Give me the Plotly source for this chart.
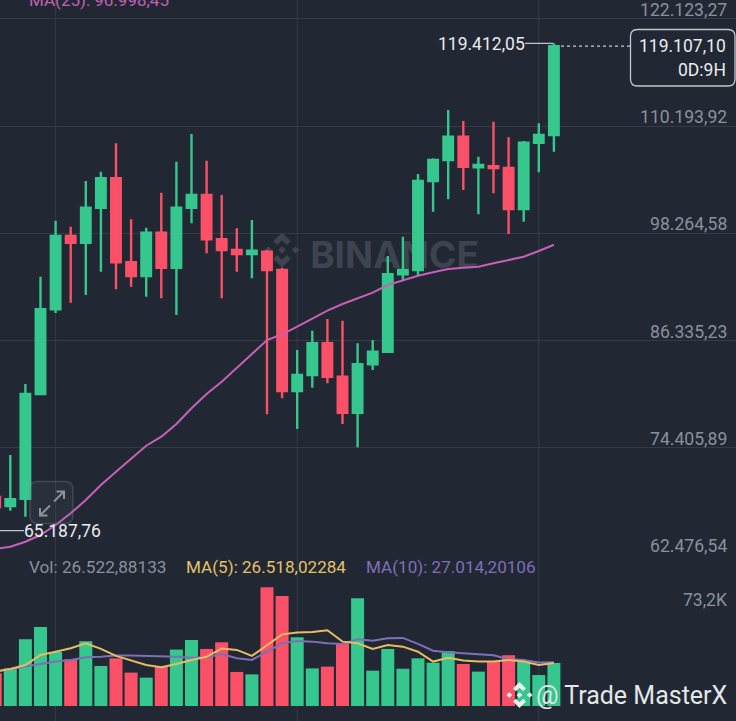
import plotly.graph_objects as go

# Candles, oldest first
opens = [68931, 67930, 68742, 80393, 89818, 97975, 97229, 101124, 104396, 95048,
         93524, 98342, 94447, 101124, 102537, 97608, 96417, 95972, 96228, 94191,
         80727, 82507, 86034, 82318, 78312, 83698, 85100, 93713, 94191, 104095,
         106432, 109025, 105620, 105750, 105542, 100979, 108357, 109214]
closes = [67818, 68675, 80393, 89818, 97975, 97229, 101124, 104396, 95048, 93524,
          98342, 94447, 101124, 102537, 97608, 96417, 95972, 96339, 94191, 80727,
          82507, 86034, 82318, 78312, 83698, 85100, 93713, 94191, 104095, 106432,
          109025, 105687, 105876, 105542, 100979, 108357, 109214, 119107.10]
highs = [69154, 73604, 81505, 93446, 99678, 99010, 104095, 105130, 108291, 99833,
         98898, 102793, 106243, 109325, 106354, 102537, 98832, 99755, 96417, 94447,
         85289, 87437, 88739, 88550, 86034, 86402, 95749, 97897, 104874, 106621,
         111996, 110772, 106799, 110694, 108958, 108547, 110516, 119412.05]
lows = [67706, 67406, 66739, 80281, 89406, 90553, 91409, 94002, 92044, 92333,
        91220, 91042, 89184, 99388, 96050, 91042, 94002, 93268, 78134, 79914,
        76498, 81094, 81583, 77054, 74461, 83063, 84950, 93079, 93524, 100679,
        102059, 103094, 100390, 102726, 98197, 99566, 105063, 107356]
ma25 = [63145, 63400, 63957, 64702, 65815, 67117, 68597, 70266, 71746, 73238,
        74640, 75641, 77054, 78801, 80393, 81761, 83253, 84844, 86402, 87036,
        87882, 88817, 89662, 90408, 91042, 91665, 92522, 93079, 93557, 93935,
        94303, 94447, 94559, 94937, 95304, 95671, 96306, 96998.45]

# Volume panel, in thousands
volumes = [20.2, 23.2, 41.1, 48.7, 33.3, 28.8, 39.9, 24.7, 29.4, 20.6,
           17.5, 24.3, 34.8, 40.7, 35.2, 39.3, 21.0, 19.5, 73.2, 67.9,
           42.4, 23.2, 24.3, 38.7, 66.4, 21.8, 35.2, 23.0, 29.4, 26.7,
           33.9, 25.9, 21.2, 27.3, 31.3, 27.3, 19.1, 26.52]
vol_ma5 = [21.2, 22.8, 25.3, 31.5, 33.5, 35.6, 38.7, 35.2, 30.9, 28.0,
           25.3, 23.9, 25.9, 28.4, 30.4, 35.4, 34.6, 30.9, 37.6, 44.2,
           45.3, 45.7, 46.7, 39.7, 38.7, 35.2, 37.6, 36.6, 33.5, 27.4,
           29.8, 28.0, 27.4, 27.4, 28.4, 27.4, 25.3, 26.52]
vol_ma10 = [21.2, 22.6, 24.3, 25.9, 27.4, 28.4, 30.0, 30.4, 31.1, 31.1,
            30.9, 30.9, 30.4, 29.8, 30.0, 32.1, 29.4, 28.4, 33.5, 38.7,
            40.1, 39.7, 38.7, 38.3, 41.1, 40.3, 41.8, 42.0, 38.3, 34.1,
            33.1, 32.5, 32.3, 31.3, 28.8, 28.4, 26.9, 27.01]

idx = list(range(len(closes)))
price_ticks = [122123.27, 110193.92, 98264.58, 86335.23, 74405.89, 62476.54]
price_labels = ['122.123,27', '110.193,92', '98.264,58', '86.335,23', '74.405,89', '62.476,54']
grid_idx = [4, 20, 36]
high_mark = 119412.05
low_mark = 65187.76
last_close = 119107.10

W, H = 736, 721
BG = '#212833'
GRID = '#343b46'
GREEN = '#35c78e'
RED = '#fa5068'
GREY = '#8a919c'
WHITE = '#e9ebee'
FONT = 'Roboto'


def px(x):
    return x / W


def py(y):
    return 1 - y / H


def poly(points):
    return 'M' + 'L'.join(f'{px(x):.5f},{py(y):.5f}' for x, y in points) + 'Z'


def logo_shapes(cx, cy, r, color, layer):
    # five piece diamond logo
    parts = [
        [(0, -.22), (.22, 0), (0, .22), (-.22, 0)],
        [(-.78, -.22), (-.56, 0), (-.78, .22), (-1, 0)],
        [(.78, -.22), (1, 0), (.78, .22), (.56, 0)],
        [(0, -1), (.5, -.5), (.28, -.28), (0, -.56), (-.28, -.28), (-.5, -.5)],
        [(0, 1), (.5, .5), (.28, .28), (0, .56), (-.28, .28), (-.5, .5)],
    ]
    return [dict(type='path', xref='paper', yref='paper', layer=layer,
                 path=poly([(cx + a * r, cy + b * r) for a, b in p]),
                 fillcolor=color, line=dict(width=0)) for p in parts]


def round_box(x0, y0, x1, y1, r):
    a, b, c, d = px(x0), py(y0), px(x1), py(y1)
    rx, ry = r / W, r / H
    return (f'M{a+rx},{b}L{c-rx},{b}Q{c},{b} {c},{b-ry}L{c},{d+ry}Q{c},{d} {c-rx},{d}'
            f'L{a+rx},{d}Q{a},{d} {a},{d+ry}L{a},{b-ry}Q{a},{b} {a+rx},{b}Z')


fig = go.Figure()

fig.add_trace(go.Bar(
    x=idx, y=volumes, yaxis='y2',
    marker=dict(color=[GREEN if c >= o else RED for o, c in zip(opens, closes)], line=dict(width=0)),
    showlegend=False, hoverinfo='skip'
))
fig.add_trace(go.Scatter(x=idx, y=vol_ma10, yaxis='y2', mode='lines',
                         line=dict(color='#7f6fb8', width=2), showlegend=False, hoverinfo='skip'))
fig.add_trace(go.Scatter(x=idx, y=vol_ma5, yaxis='y2', mode='lines',
                         line=dict(color='#e9bb62', width=2), showlegend=False, hoverinfo='skip'))

fig.add_trace(go.Candlestick(
    x=idx, open=opens, high=highs, low=lows, close=closes,
    increasing=dict(line=dict(color=GREEN, width=2.4), fillcolor=GREEN),
    decreasing=dict(line=dict(color=RED, width=2.4), fillcolor=RED),
    showlegend=False
))
fig.add_trace(go.Scatter(x=idx, y=ma25, mode='lines',
                         line=dict(color='#c761b8', width=2), showlegend=False, hoverinfo='skip'))

shapes = []
# vertical grid runs through both panels
for g in grid_idx:
    shapes.append(dict(type='line', xref='x', yref='paper', x0=g, x1=g, y0=0, y1=1,
                       layer='below', line=dict(color=GRID, width=1)))

# watermark sits under the candles
shapes += logo_shapes(282, 250, 17.5, '#3d444f', 'below')
shapes.append(dict(type='rect', xref='paper', yref='paper', layer='below',
                   x0=px(305), x1=px(484), y0=py(270), y1=py(236), line=dict(width=0),
                   label=dict(text='<b>BINANCE</b>', textposition='middle center',
                              font=dict(family='Inter', size=37, color='#3d444f'))))

# high, low and last price leaders
shapes.append(dict(type='line', xref='paper', yref='y', x0=px(525), x1=px(553), y0=high_mark, y1=high_mark,
                   line=dict(color='#c9ccd1', width=1.2)))
shapes.append(dict(type='line', xref='paper', yref='y', x0=0, x1=px(24), y0=low_mark, y1=low_mark,
                   line=dict(color='#c9ccd1', width=1.2)))
shapes.append(dict(type='line', xref='paper', yref='y', x0=px(561), x1=px(630), y0=last_close, y1=last_close,
                   line=dict(color='#c9ccd1', width=1.2, dash='3px,3px')))
shapes.append(dict(type='path', xref='paper', yref='paper', path=round_box(630.5, 29.5, 735, 86, 7),
                   fillcolor=BG, line=dict(color='#c3c7cc', width=1.3)))

# expand button
shapes.append(dict(type='path', xref='paper', yref='paper', path=round_box(30, 481.5, 73, 523.5, 8),
                   fillcolor='rgba(120,128,140,0.10)', line=dict(color='rgba(120,128,140,0.35)', width=1.5)))
for pts in ([(40, 515.5), (50, 505.5)], [(54, 501.5), (64, 491.5)],
            [(40, 508), (40, 515.5), (47.5, 515.5)], [(56.5, 491.5), (64, 491.5), (64, 499)]):
    shapes.append(dict(type='path', xref='paper', yref='paper',
                       path='M' + 'L'.join(f'{px(x):.5f},{py(y):.5f}' for x, y in pts),
                       line=dict(color='#8d939c', width=2)))

shapes += logo_shapes(519.5, 695, 13, '#eef0f2', 'above')

annotations = []


def label(x, y, text, color, size=17.5, anchor='left', **kw):
    annotations.append(dict(xref='paper', yref='paper', x=px(x), y=py(y), text=text, showarrow=False,
                            xanchor=anchor, yanchor='middle', align=anchor,
                            font=dict(family=FONT, size=size, color=color), **kw))


for v, t in zip(price_ticks, price_labels):
    annotations.append(dict(xref='paper', yref='y', x=px(729), y=v, text=t, showarrow=False,
                            xanchor='right', yanchor='bottom', yshift=-3,
                            font=dict(family=FONT, size=17.6, color=GREY)))

label(27, 0, 'MA(25): 96.998,45', '#c261b4', size=17)
label(27, 567, 'Vol: 26.522,88133', GREY, size=17.2)
label(184, 567, 'MA(5): 26.518,02284', '#e3c268', size=17.1)
label(364, 567, 'MA(10): 27.014,20106', '#7f6fb8', size=17.1)
label(729, 600, '73,2K', GREY, anchor='right')
label(527, 44, '119.412,05', WHITE, anchor='right')
label(22, 531, '65.187,76', WHITE)
label(728, 46, '119.107,10', WHITE, anchor='right')
label(728, 70, '0D:9H', WHITE, anchor='right')
label(730, 695, '@ Trade MasterX', '#e4e6e9', size=25, anchor='right')

fig.update_layout(
    width=W, height=H, autosize=False,
    margin=dict(l=0, r=0, t=0, b=0),
    paper_bgcolor=BG, plot_bgcolor=BG,
    showlegend=False, boxgap=0.1, bargap=0.14,
    shapes=shapes, annotations=annotations,
    xaxis=dict(range=[0.318, 49.06], visible=False, rangeslider=dict(visible=False), fixedrange=True),
    yaxis=dict(domain=[1 - 555 / H, 1], range=[62476.54, 124237], tickvals=price_ticks,
               showticklabels=False, showgrid=True, gridcolor=GRID, gridwidth=1, zeroline=False, ticks=''),
    yaxis2=dict(domain=[1 - 706 / H, 1 - 575 / H], range=[0, 80.8], tickvals=[0],
                showticklabels=False, showgrid=True, gridcolor=GRID, zeroline=False, ticks='')
)

# page margin would shift the chart by 8px
fig.write_html("out.html", config=dict(displayModeBar=False),
               post_script="document.body.style.margin='0';document.body.style.background='#212833';")
